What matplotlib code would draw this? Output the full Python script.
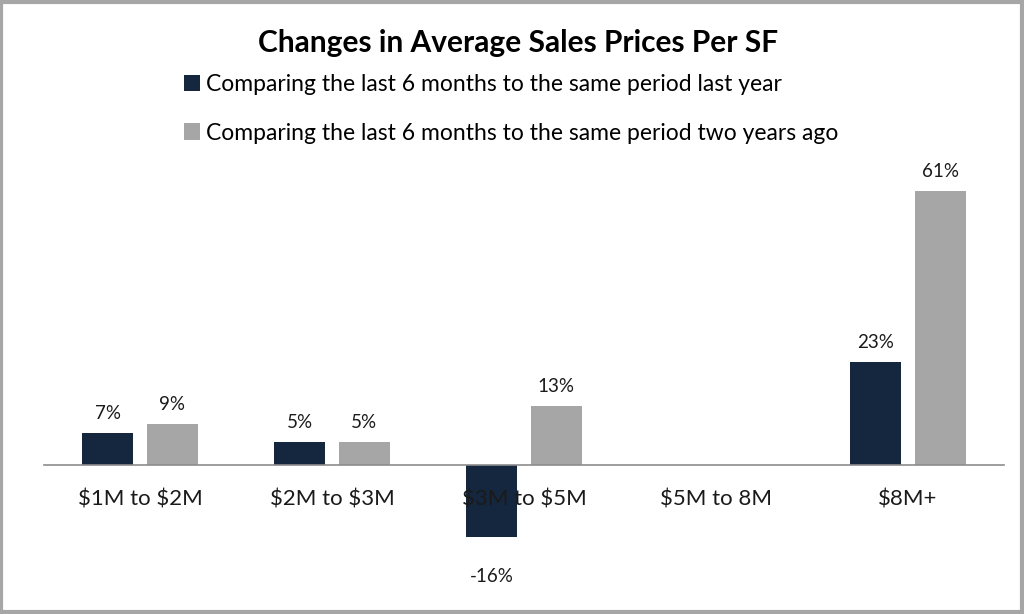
import matplotlib
matplotlib.use("Agg")
import matplotlib.pyplot as plt
from matplotlib.patches import Rectangle, Patch
import numpy as np

categories = ["$1M to $2M", "$2M to $3M", "$3M to $5M", "$5M to 8M", "$8M+"]
last_year = [0.07, 0.05, -0.16, None, 0.23]
two_years = [0.09, 0.05, 0.13, None, 0.61]
series_names = ["Comparing the last 6 months to the same period last year",
                "Comparing the last 6 months to the same period two years ago"]
title = "Changes in Average Sales Prices Per SF"

dark = "#14273f"
light = "#a6a6a6"
plt.rcParams['font.family'] = ['Lato', 'DejaVu Sans']
plt.rcParams['text.parse_math'] = False

W, H = 1024, 614
fig = plt.figure(figsize=(W/100, H/100), dpi=100)
fig.patch.set_facecolor("white")

ax_left, ax_right = 44, 1004
ax_top, ax_bot = 173, 577
ax = fig.add_axes([ax_left/W, 1-ax_bot/H, (ax_right-ax_left)/W, (ax_bot-ax_top)/H])
ax.set_xlim(-0.5, 4.5)
ax.set_ylim(-0.25, 0.65)

x = np.arange(len(categories))
bw = 0.266
off = 0.167
for vals, color, sgn in [(last_year, dark, -1), (two_years, light, 1)]:
    for xi, v in zip(x, vals):
        if v is None:
            continue
        ax.bar(xi + sgn*off, v, width=bw, color=color, zorder=2)
        if v >= 0:
            ax.annotate(f"{round(v*100):d}%", (xi + sgn*off, v), xytext=(0, 14),
                        textcoords="offset points", ha="center", va="center",
                        fontsize=13.5, color="#1a1a1a")
        else:
            ax.annotate(f"{round(v*100):d}%", (xi + sgn*off, v), xytext=(0, -29),
                        textcoords="offset points", ha="center", va="center",
                        fontsize=13.5, color="#1a1a1a")

for s in ["top", "left", "right"]:
    ax.spines[s].set_visible(False)
ax.spines["bottom"].set_position(("data", 0))
ax.spines["bottom"].set_color("#8c8c8c")
ax.spines["bottom"].set_linewidth(1.2)
ax.spines["bottom"].set_zorder(3)
ax.set_yticks([])
ax.set_xticks(x)
ax.set_xticklabels(categories, fontsize=16, color="#1a1a1a")
ax.tick_params(axis="x", length=0, pad=18)
for lbl in ax.get_xticklabels():
    lbl.set_zorder(5)
ax.xaxis.set_zorder(4)

fig.text(518/W, 1-43/H, title, ha="center", va="center", fontsize=21.5,
         fontweight="bold", color="black")

handles = [Patch(facecolor=dark), Patch(facecolor=light)]
fig.legend(handles, series_names, loc="upper left",
           bbox_to_anchor=(184/W, 1-74/H), frameon=False, fontsize=16.5,
           handlelength=0.7, handleheight=0.7, handletextpad=0.25,
           labelspacing=1.2, borderaxespad=0, borderpad=0)

fig.patches.append(Rectangle((0.001, 0.003), 0.997, 0.994, transform=fig.transFigure,
                             fill=False, edgecolor="#a6a6a6", linewidth=3))

fig.savefig("out.png", dpi=100, facecolor="white")
